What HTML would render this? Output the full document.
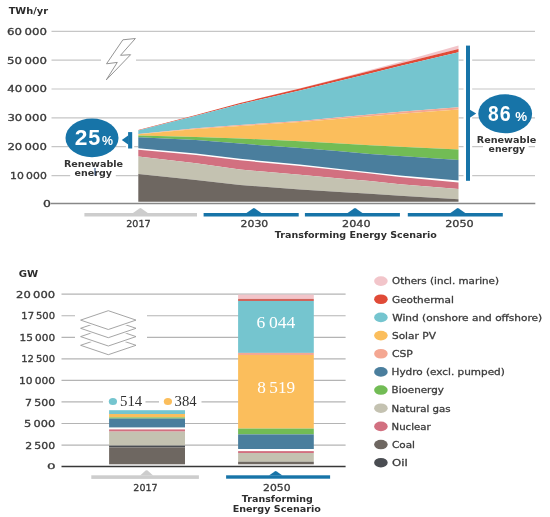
<!DOCTYPE html>
<html><head><meta charset="utf-8"><title>Electricity generation and capacity</title>
<style>html,body{margin:0;padding:0;background:#fff;width:550px;height:517px;overflow:hidden}svg{display:block}</style>
</head><body>
<svg width="550" height="517" viewBox="0 0 550 517">
<rect width="550" height="517" fill="#fff"/>
<text x="8.65" y="13.60" font-family='"DejaVu Sans", "Liberation Sans", sans-serif' font-size="9.4" font-weight="bold" fill="#2b2b2b" textLength="39.37" lengthAdjust="spacingAndGlyphs">TWh/yr</text>
<text x="7.08" y="34.70" font-family='"DejaVu Sans", "Liberation Sans", sans-serif' font-size="9.2" fill="#3A3A3A" stroke="#3A3A3A" stroke-width="0.3" textLength="39.80" lengthAdjust="spacingAndGlyphs">60 000</text>
<text x="7.12" y="63.55" font-family='"DejaVu Sans", "Liberation Sans", sans-serif' font-size="9.2" fill="#3A3A3A" stroke="#3A3A3A" stroke-width="0.3" textLength="39.76" lengthAdjust="spacingAndGlyphs">50 000</text>
<text x="7.21" y="92.40" font-family='"DejaVu Sans", "Liberation Sans", sans-serif' font-size="9.2" fill="#3A3A3A" stroke="#3A3A3A" stroke-width="0.3" textLength="39.66" lengthAdjust="spacingAndGlyphs">40 000</text>
<text x="7.43" y="121.25" font-family='"DejaVu Sans", "Liberation Sans", sans-serif' font-size="9.2" fill="#3A3A3A" stroke="#3A3A3A" stroke-width="0.3" textLength="39.44" lengthAdjust="spacingAndGlyphs">30 000</text>
<text x="7.43" y="150.10" font-family='"DejaVu Sans", "Liberation Sans", sans-serif' font-size="9.2" fill="#3A3A3A" stroke="#3A3A3A" stroke-width="0.3" textLength="39.44" lengthAdjust="spacingAndGlyphs">20 000</text>
<text x="10.11" y="178.95" font-family='"DejaVu Sans", "Liberation Sans", sans-serif' font-size="9.2" fill="#3A3A3A" stroke="#3A3A3A" stroke-width="0.3" textLength="36.71" lengthAdjust="spacingAndGlyphs">10 000</text>
<text x="43.09" y="206.60" font-family='"DejaVu Sans", "Liberation Sans", sans-serif' font-size="8.9" fill="#3A3A3A" stroke="#3A3A3A" stroke-width="0.3" textLength="7.94" lengthAdjust="spacingAndGlyphs">0</text>
<line x1="51.5" x2="535" y1="31.30" y2="31.30" stroke="#C6C6C6" stroke-width="1.2"/>
<line x1="51.5" x2="535" y1="60.15" y2="60.15" stroke="#C6C6C6" stroke-width="1.2"/>
<line x1="51.5" x2="535" y1="89.00" y2="89.00" stroke="#C6C6C6" stroke-width="1.2"/>
<line x1="51.5" x2="535" y1="117.85" y2="117.85" stroke="#C6C6C6" stroke-width="1.2"/>
<line x1="51.5" x2="535" y1="146.70" y2="146.70" stroke="#C6C6C6" stroke-width="1.2"/>
<line x1="51.5" x2="535" y1="175.55" y2="175.55" stroke="#C6C6C6" stroke-width="1.2"/>
<polygon points="138.3,130.00 196.0,114.90 240.0,103.00 300.0,88.30 340.0,78.00 370.0,70.00 400.0,61.90 458.5,45.60 458.5,201.80 400.0,201.80 370.0,201.80 340.0,201.80 300.0,201.80 240.0,201.80 196.0,201.80 138.3,201.80" fill="#ffffff"/>
<polygon points="138.3,130.00 196.0,114.90 240.0,103.00 300.0,88.30 340.0,78.00 370.0,70.00 400.0,61.90 458.5,45.60 458.5,48.90 400.0,63.40 370.0,71.00 340.0,78.60 300.0,88.50 240.0,103.00 196.0,114.90 138.3,130.00" fill="#F2C5CA"/>
<polygon points="138.3,130.00 196.0,114.90 240.0,103.00 300.0,88.50 340.0,78.60 370.0,71.00 400.0,63.40 458.5,48.90 458.5,52.20 400.0,66.00 370.0,73.40 340.0,80.80 300.0,90.50 240.0,104.30 196.0,115.70 138.3,130.50" fill="#E04A37"/>
<polygon points="138.3,130.50 196.0,115.70 240.0,104.30 300.0,90.50 340.0,80.80 370.0,73.40 400.0,66.00 458.5,52.20 458.5,107.30 400.0,111.70 370.0,114.50 340.0,117.20 300.0,120.90 240.0,125.00 196.0,128.30 138.3,134.00" fill="#75C5CF"/>
<polygon points="138.3,134.00 196.0,128.30 240.0,125.00 300.0,120.90 340.0,117.20 370.0,114.50 400.0,111.70 458.5,107.30 458.5,109.50 400.0,113.80 370.0,116.30 340.0,118.70 300.0,122.10 240.0,125.90 196.0,128.90 138.3,134.30" fill="#F4A792"/>
<polygon points="138.3,134.30 196.0,128.90 240.0,125.90 300.0,122.10 340.0,118.70 370.0,116.30 400.0,113.80 458.5,109.50 458.5,149.50 400.0,146.70 370.0,145.20 340.0,143.60 300.0,141.20 240.0,138.40 196.0,137.00 138.3,135.60" fill="#FBBE5C"/>
<polygon points="138.3,135.60 196.0,137.00 240.0,138.40 300.0,141.20 340.0,143.60 370.0,145.20 400.0,146.70 458.5,149.50 458.5,159.90 400.0,156.10 370.0,153.90 340.0,151.20 300.0,148.00 240.0,143.60 196.0,139.90 138.3,137.20" fill="#72BC55"/>
<polygon points="138.3,137.20 196.0,139.90 240.0,143.60 300.0,148.00 340.0,151.20 370.0,153.90 400.0,156.10 458.5,159.90 458.5,180.40 400.0,175.50 370.0,172.30 340.0,168.90 300.0,164.50 240.0,158.80 196.0,153.40 138.3,148.20" fill="#4A7E9D"/>
<polygon points="138.3,149.70 196.0,154.90 240.0,160.30 300.0,166.00 340.0,170.30 370.0,173.60 400.0,176.90 458.5,182.40 458.5,188.90 400.0,184.20 370.0,180.90 340.0,178.50 300.0,174.80 240.0,169.50 196.0,163.30 138.3,156.50" fill="#D27080"/>
<polygon points="138.3,156.50 196.0,163.30 240.0,169.50 300.0,174.80 340.0,178.50 370.0,180.90 400.0,184.20 458.5,188.90 458.5,199.30 400.0,195.80 370.0,193.80 340.0,192.00 300.0,189.50 240.0,185.00 196.0,180.00 138.3,173.90" fill="#C4C2B1"/>
<polygon points="138.3,173.90 196.0,180.00 240.0,185.00 300.0,189.50 340.0,192.00 370.0,193.80 400.0,195.80 458.5,199.30 458.5,201.80 400.0,201.80 370.0,201.80 340.0,201.80 300.0,201.80 240.0,201.80 196.0,201.80 138.3,201.80" fill="#6E6761"/>
<line x1="50.7" x2="535.3" y1="203.6" y2="203.6" stroke="#888888" stroke-width="1.5"/>
<rect x="101" y="55" width="35" height="10" fill="#fff"/>
<polygon points="122.9,39.8 135.4,38.5 120.5,55.3 130.6,54.7 106.2,80 117.3,62.4 106.5,63.8" fill="#fff" stroke="#959595" stroke-width="1"/>
<rect x="70.2" y="170" width="45.6" height="10" fill="#fff"/>
<rect x="60" y="158" width="68" height="10" fill="#fff"/>
<ellipse cx="92" cy="137.9" rx="26.5" ry="19.4" fill="#1774A8"/>
<text x="74.71" y="144.90" font-family='"Liberation Sans", sans-serif' font-size="22.4" font-weight="bold" fill="#fff" textLength="12.63" lengthAdjust="spacingAndGlyphs">2</text>
<text x="88.25" y="144.90" font-family='"Liberation Sans", sans-serif' font-size="22.4" font-weight="bold" fill="#fff" textLength="12.01" lengthAdjust="spacingAndGlyphs">5</text>
<text x="101.99" y="145.00" font-family='"Liberation Sans", sans-serif' font-size="12.2" font-weight="bold" fill="#fff" textLength="11.01" lengthAdjust="spacingAndGlyphs">%</text>
<text x="63.94" y="166.80" font-family='"DejaVu Sans", "Liberation Sans", sans-serif' font-size="8.8" font-weight="bold" fill="#333" textLength="59.13" lengthAdjust="spacingAndGlyphs">Renewable</text>
<text x="74.62" y="176.40" font-family='"DejaVu Sans", "Liberation Sans", sans-serif' font-size="8.8" font-weight="bold" fill="#333" textLength="37.36" lengthAdjust="spacingAndGlyphs">energy</text>
<line x1="95" x2="95" y1="168" y2="175.5" stroke="#1d3f73" stroke-width="1"/>
<rect x="125.9" y="130" width="8.3" height="20" fill="#fff"/>
<rect x="128.1" y="132.1" width="4.1" height="16.4" fill="#1774A8"/>
<polygon points="121.8,140 128.5,135.2 128.5,144.7" fill="#1774A8"/>
<rect x="463.5" y="35" width="8.7" height="150" fill="#fff"/>
<rect x="466" y="45.6" width="4" height="135.2" fill="#1774A8"/>
<polygon points="476.2,113.6 469.5,109.6 469.5,118.0" fill="#1774A8"/>
<rect x="483" y="135" width="45.6" height="20" fill="#fff"/>
<ellipse cx="505.2" cy="113.8" rx="26.9" ry="19.5" fill="#1774A8"/>
<text x="487.92" y="121.10" font-family='"Liberation Sans", sans-serif' font-size="22.4" font-weight="bold" fill="#fff" textLength="10.67" lengthAdjust="spacingAndGlyphs">8</text>
<text x="499.81" y="121.10" font-family='"Liberation Sans", sans-serif' font-size="22.4" font-weight="bold" fill="#fff" textLength="10.89" lengthAdjust="spacingAndGlyphs">6</text>
<text x="515.17" y="121.20" font-family='"Liberation Sans", sans-serif' font-size="12.2" font-weight="bold" fill="#fff" textLength="11.86" lengthAdjust="spacingAndGlyphs">%</text>
<text x="476.73" y="142.60" font-family='"DejaVu Sans", "Liberation Sans", sans-serif' font-size="8.8" font-weight="bold" fill="#333" textLength="59.54" lengthAdjust="spacingAndGlyphs">Renewable</text>
<text x="488.63" y="151.80" font-family='"DejaVu Sans", "Liberation Sans", sans-serif' font-size="8.8" font-weight="bold" fill="#333" textLength="36.55" lengthAdjust="spacingAndGlyphs">energy</text>
<rect x="84.4" y="213" width="112.6" height="3.5" fill="#CDCDCD"/>
<path d="M132.60,213.3 L139.40,208.40 Q140.4,207.70 141.40,208.40 L148.20,213.3 Z" fill="#CDCDCD"/>
<rect x="203.6" y="213" width="95.1" height="3.5" fill="#1774A8"/>
<path d="M246.10,213.3 L252.90,208.40 Q253.9,207.70 254.90,208.40 L261.70,213.3 Z" fill="#1774A8"/>
<rect x="304.9" y="213" width="95.0" height="3.5" fill="#1774A8"/>
<path d="M347.20,213.3 L354.00,208.40 Q355,207.70 356.00,208.40 L362.80,213.3 Z" fill="#1774A8"/>
<rect x="407.8" y="213" width="95.0" height="3.5" fill="#1774A8"/>
<path d="M450.00,213.3 L456.80,208.40 Q457.8,207.70 458.80,208.40 L465.60,213.3 Z" fill="#1774A8"/>
<text x="126.18" y="227.20" font-family='"DejaVu Sans", "Liberation Sans", sans-serif' font-size="9.5" fill="#3A3A3A" stroke="#3A3A3A" stroke-width="0.3" textLength="24.44" lengthAdjust="spacingAndGlyphs">2017</text>
<text x="240.59" y="227.30" font-family='"DejaVu Sans", "Liberation Sans", sans-serif' font-size="9.5" fill="#3A3A3A" stroke="#3A3A3A" stroke-width="0.3" textLength="27.62" lengthAdjust="spacingAndGlyphs">2030</text>
<text x="342.06" y="227.40" font-family='"DejaVu Sans", "Liberation Sans", sans-serif' font-size="9.5" fill="#3A3A3A" stroke="#3A3A3A" stroke-width="0.3" textLength="28.47" lengthAdjust="spacingAndGlyphs">2040</text>
<text x="445.16" y="227.30" font-family='"DejaVu Sans", "Liberation Sans", sans-serif' font-size="9.5" fill="#3A3A3A" stroke="#3A3A3A" stroke-width="0.3" textLength="28.57" lengthAdjust="spacingAndGlyphs">2050</text>
<text x="274.85" y="237.90" font-family='"DejaVu Sans", "Liberation Sans", sans-serif' font-size="8.8" font-weight="bold" fill="#2e2e2e" textLength="162.05" lengthAdjust="spacingAndGlyphs">Transforming Energy Scenario</text>
<text x="18.79" y="276.70" font-family='"DejaVu Sans", "Liberation Sans", sans-serif' font-size="8.5" font-weight="bold" fill="#2b2b2b" textLength="19.45" lengthAdjust="spacingAndGlyphs">GW</text>
<text x="16.13" y="297.80" font-family='"DejaVu Sans", "Liberation Sans", sans-serif' font-size="9.2" fill="#3A3A3A" stroke="#3A3A3A" stroke-width="0.3" textLength="39.03" lengthAdjust="spacingAndGlyphs">20 000</text>
<text x="21.30" y="319.35" font-family='"DejaVu Sans", "Liberation Sans", sans-serif' font-size="9.2" fill="#3A3A3A" stroke="#3A3A3A" stroke-width="0.3" textLength="33.76" lengthAdjust="spacingAndGlyphs">17 500</text>
<text x="19.54" y="340.90" font-family='"DejaVu Sans", "Liberation Sans", sans-serif' font-size="9.2" fill="#3A3A3A" stroke="#3A3A3A" stroke-width="0.3" textLength="35.55" lengthAdjust="spacingAndGlyphs">15 000</text>
<text x="21.20" y="362.45" font-family='"DejaVu Sans", "Liberation Sans", sans-serif' font-size="9.2" fill="#3A3A3A" stroke="#3A3A3A" stroke-width="0.3" textLength="33.86" lengthAdjust="spacingAndGlyphs">12 500</text>
<text x="19.03" y="384.00" font-family='"DejaVu Sans", "Liberation Sans", sans-serif' font-size="9.2" fill="#3A3A3A" stroke="#3A3A3A" stroke-width="0.3" textLength="36.08" lengthAdjust="spacingAndGlyphs">10 000</text>
<text x="25.02" y="405.55" font-family='"DejaVu Sans", "Liberation Sans", sans-serif' font-size="9.2" fill="#3A3A3A" stroke="#3A3A3A" stroke-width="0.3" textLength="30.09" lengthAdjust="spacingAndGlyphs">7 500</text>
<text x="23.95" y="427.10" font-family='"DejaVu Sans", "Liberation Sans", sans-serif' font-size="9.2" fill="#3A3A3A" stroke="#3A3A3A" stroke-width="0.3" textLength="31.19" lengthAdjust="spacingAndGlyphs">5 000</text>
<text x="25.18" y="448.65" font-family='"DejaVu Sans", "Liberation Sans", sans-serif' font-size="9.2" fill="#3A3A3A" stroke="#3A3A3A" stroke-width="0.3" textLength="29.92" lengthAdjust="spacingAndGlyphs">2 500</text>
<text x="47.02" y="468.90" font-family='"DejaVu Sans", "Liberation Sans", sans-serif' font-size="7.8" fill="#3A3A3A" stroke="#3A3A3A" stroke-width="0.3" textLength="8.57" lengthAdjust="spacingAndGlyphs">0</text>
<line x1="61.5" x2="345.6" y1="294.20" y2="294.20" stroke="#B4B4B4" stroke-width="1.2"/>
<line x1="61.5" x2="345.6" y1="315.75" y2="315.75" stroke="#B4B4B4" stroke-width="1.2"/>
<line x1="61.5" x2="345.6" y1="337.30" y2="337.30" stroke="#B4B4B4" stroke-width="1.2"/>
<line x1="61.5" x2="345.6" y1="358.85" y2="358.85" stroke="#B4B4B4" stroke-width="1.2"/>
<line x1="61.5" x2="345.6" y1="380.40" y2="380.40" stroke="#B4B4B4" stroke-width="1.2"/>
<line x1="61.5" x2="345.6" y1="401.95" y2="401.95" stroke="#B4B4B4" stroke-width="1.2"/>
<line x1="61.5" x2="345.6" y1="423.50" y2="423.50" stroke="#B4B4B4" stroke-width="1.2"/>
<line x1="61.5" x2="345.6" y1="445.05" y2="445.05" stroke="#B4B4B4" stroke-width="1.2"/>
<line x1="61.5" x2="345.6" y1="466.5" y2="466.5" stroke="#383838" stroke-width="1.3"/>
<rect x="75" y="305" width="72" height="51" fill="#fff"/>
<polygon points="108.3,335.90000000000003 136.0,345.3 108.3,354.7 80.6,345.3" fill="#fff" stroke="#fff" stroke-width="3.2"/>
<polygon points="108.3,335.90000000000003 136.0,345.3 108.3,354.7 80.6,345.3" fill="#fff" stroke="#9b9b9b" stroke-width="0.9"/>
<polygon points="108.3,327.20000000000005 136.0,336.6 108.3,346.0 80.6,336.6" fill="#fff" stroke="#fff" stroke-width="3.2"/>
<polygon points="108.3,327.20000000000005 136.0,336.6 108.3,346.0 80.6,336.6" fill="#fff" stroke="#9b9b9b" stroke-width="0.9"/>
<polygon points="108.3,318.90000000000003 136.0,328.3 108.3,337.7 80.6,328.3" fill="#fff" stroke="#fff" stroke-width="3.2"/>
<polygon points="108.3,318.90000000000003 136.0,328.3 108.3,337.7 80.6,328.3" fill="#fff" stroke="#9b9b9b" stroke-width="0.9"/>
<polygon points="108.3,310.70000000000005 136.0,320.1 108.3,329.5 80.6,320.1" fill="#fff" stroke="#fff" stroke-width="3.2"/>
<polygon points="108.3,310.70000000000005 136.0,320.1 108.3,329.5 80.6,320.1" fill="#fff" stroke="#9b9b9b" stroke-width="0.9"/>
<rect x="109.1" y="410.2" width="75.9" height="3.80" fill="#75C5CF"/>
<rect x="109.1" y="414.0" width="75.9" height="3.40" fill="#FBBE5C"/>
<rect x="109.1" y="417.4" width="75.9" height="1.20" fill="#72BC55"/>
<rect x="109.1" y="418.6" width="75.9" height="8.80" fill="#4A7E9D"/>
<rect x="109.1" y="429.4" width="75.9" height="2.20" fill="#D27080"/>
<rect x="109.1" y="431.6" width="75.9" height="14.00" fill="#C4C2B1"/>
<rect x="109.1" y="445.6" width="75.9" height="1.80" fill="#4A4D52"/>
<rect x="109.1" y="447.4" width="75.9" height="16.90" fill="#6E6761"/>
<rect x="238.1" y="294.6" width="75.7" height="4.30" fill="#F2C5CA"/>
<rect x="238.1" y="298.9" width="75.7" height="2.10" fill="#D0655C"/>
<rect x="238.1" y="301.0" width="75.7" height="51.90" fill="#75C5CF"/>
<rect x="238.1" y="352.9" width="75.7" height="2.10" fill="#F4A792"/>
<rect x="238.1" y="355.0" width="75.7" height="73.60" fill="#FBBE5C"/>
<rect x="238.1" y="428.6" width="75.7" height="5.80" fill="#72BC55"/>
<rect x="238.1" y="434.4" width="75.7" height="14.60" fill="#4A7E9D"/>
<rect x="238.1" y="451.1" width="75.7" height="1.90" fill="#D27080"/>
<rect x="238.1" y="453.0" width="75.7" height="8.70" fill="#C4C2B1"/>
<rect x="238.1" y="461.7" width="75.7" height="2.60" fill="#6E6761"/>
<rect x="103" y="394" width="42.5" height="14" fill="#fff"/>
<rect x="159" y="394" width="42.5" height="14" fill="#fff"/>
<ellipse cx="112.9" cy="401.5" rx="4.1" ry="3.6" fill="#75C5CF"/>
<ellipse cx="167.9" cy="401.5" rx="4.1" ry="3.6" fill="#FBBE5C"/>
<text x="120.01" y="405.60" font-family='"Liberation Serif", serif' font-size="14" fill="#2f2f2f" textLength="22.21" lengthAdjust="spacingAndGlyphs">514</text>
<text x="174.64" y="405.70" font-family='"Liberation Serif", serif' font-size="14" fill="#2f2f2f" textLength="21.98" lengthAdjust="spacingAndGlyphs">384</text>
<text x="256.60" y="328.20" font-family='"Liberation Serif", serif' font-size="16.9" fill="#fff" textLength="38.67" lengthAdjust="spacingAndGlyphs">6 044</text>
<text x="257.31" y="392.70" font-family='"Liberation Serif", serif' font-size="16.9" fill="#fff" textLength="37.88" lengthAdjust="spacingAndGlyphs">8 519</text>
<rect x="91.3" y="475.3" width="107.6" height="3.6" fill="#CDCDCD"/>
<path d="M140.10,475.6 L145.60,470.60 Q146.6,469.90 147.60,470.60 L153.10,475.6 Z" fill="#CDCDCD"/>
<rect x="226.1" y="475.3" width="104.0" height="3.4" fill="#1774A8"/>
<path d="M268.90,475.6 L274.70,471.40 Q275.7,470.70 276.70,471.40 L282.50,475.6 Z" fill="#1774A8"/>
<text x="133.39" y="490.80" font-family='"DejaVu Sans", "Liberation Sans", sans-serif' font-size="9.5" fill="#3A3A3A" stroke="#3A3A3A" stroke-width="0.3" textLength="24.22" lengthAdjust="spacingAndGlyphs">2017</text>
<text x="263.09" y="490.80" font-family='"DejaVu Sans", "Liberation Sans", sans-serif' font-size="9.5" fill="#3A3A3A" stroke="#3A3A3A" stroke-width="0.3" textLength="27.51" lengthAdjust="spacingAndGlyphs">2050</text>
<text x="241.85" y="501.70" font-family='"DejaVu Sans", "Liberation Sans", sans-serif' font-size="8.8" font-weight="bold" fill="#2e2e2e" textLength="71.06" lengthAdjust="spacingAndGlyphs">Transforming</text>
<text x="232.74" y="512.30" font-family='"DejaVu Sans", "Liberation Sans", sans-serif' font-size="8.8" font-weight="bold" fill="#2e2e2e" textLength="88.08" lengthAdjust="spacingAndGlyphs">Energy Scenario</text>
<ellipse cx="380.9" cy="281.10" rx="6.8" ry="4.8" fill="#F2C5CA"/>
<text x="392.03" y="284.40" font-family='"DejaVu Sans", "Liberation Sans", sans-serif' font-size="9.5" fill="#3A3A3A" stroke="#3A3A3A" stroke-width="0.3" textLength="106.93" lengthAdjust="spacingAndGlyphs">Others (incl. marine)</text>
<ellipse cx="380.9" cy="299.26" rx="6.8" ry="4.8" fill="#E04A37"/>
<text x="392.02" y="302.56" font-family='"DejaVu Sans", "Liberation Sans", sans-serif' font-size="9.5" fill="#3A3A3A" stroke="#3A3A3A" stroke-width="0.3" textLength="61.83" lengthAdjust="spacingAndGlyphs">Geothermal</text>
<ellipse cx="380.9" cy="317.42" rx="6.8" ry="4.8" fill="#75C5CF"/>
<text x="392.23" y="320.72" font-family='"DejaVu Sans", "Liberation Sans", sans-serif' font-size="9.5" fill="#3A3A3A" stroke="#3A3A3A" stroke-width="0.3" textLength="149.99" lengthAdjust="spacingAndGlyphs">Wind (onshore and offshore)</text>
<ellipse cx="380.9" cy="335.58" rx="6.8" ry="4.8" fill="#FBBE5C"/>
<text x="391.91" y="338.88" font-family='"DejaVu Sans", "Liberation Sans", sans-serif' font-size="9.5" fill="#3A3A3A" stroke="#3A3A3A" stroke-width="0.3" textLength="43.98" lengthAdjust="spacingAndGlyphs">Solar PV</text>
<ellipse cx="380.9" cy="353.74" rx="6.8" ry="4.8" fill="#F4A792"/>
<text x="392.01" y="357.04" font-family='"DejaVu Sans", "Liberation Sans", sans-serif' font-size="9.5" fill="#3A3A3A" stroke="#3A3A3A" stroke-width="0.3" textLength="20.83" lengthAdjust="spacingAndGlyphs">CSP</text>
<ellipse cx="380.9" cy="371.90" rx="6.8" ry="4.8" fill="#4A7E9D"/>
<text x="391.56" y="375.20" font-family='"DejaVu Sans", "Liberation Sans", sans-serif' font-size="9.5" fill="#3A3A3A" stroke="#3A3A3A" stroke-width="0.3" textLength="113.24" lengthAdjust="spacingAndGlyphs">Hydro (excl. pumped)</text>
<ellipse cx="380.9" cy="390.06" rx="6.8" ry="4.8" fill="#72BC55"/>
<text x="391.57" y="393.36" font-family='"DejaVu Sans", "Liberation Sans", sans-serif' font-size="9.5" fill="#3A3A3A" stroke="#3A3A3A" stroke-width="0.3" textLength="52.24" lengthAdjust="spacingAndGlyphs">Bioenergy</text>
<ellipse cx="380.9" cy="408.22" rx="6.8" ry="4.8" fill="#C4C2B1"/>
<text x="391.58" y="411.52" font-family='"DejaVu Sans", "Liberation Sans", sans-serif' font-size="9.5" fill="#3A3A3A" stroke="#3A3A3A" stroke-width="0.3" textLength="58.98" lengthAdjust="spacingAndGlyphs">Natural gas</text>
<ellipse cx="380.9" cy="426.38" rx="6.8" ry="4.8" fill="#D27080"/>
<text x="391.58" y="429.68" font-family='"DejaVu Sans", "Liberation Sans", sans-serif' font-size="9.5" fill="#3A3A3A" stroke="#3A3A3A" stroke-width="0.3" textLength="39.10" lengthAdjust="spacingAndGlyphs">Nuclear</text>
<ellipse cx="380.9" cy="444.54" rx="6.8" ry="4.8" fill="#6E6761"/>
<text x="392.03" y="447.84" font-family='"DejaVu Sans", "Liberation Sans", sans-serif' font-size="9.5" fill="#3A3A3A" stroke="#3A3A3A" stroke-width="0.3" textLength="22.92" lengthAdjust="spacingAndGlyphs">Coal</text>
<ellipse cx="380.9" cy="462.70" rx="6.8" ry="4.8" fill="#4A4D52"/>
<text x="391.96" y="466.00" font-family='"DejaVu Sans", "Liberation Sans", sans-serif' font-size="9.5" fill="#3A3A3A" stroke="#3A3A3A" stroke-width="0.3" textLength="15.73" lengthAdjust="spacingAndGlyphs">Oil</text>
</svg>
</body></html>
